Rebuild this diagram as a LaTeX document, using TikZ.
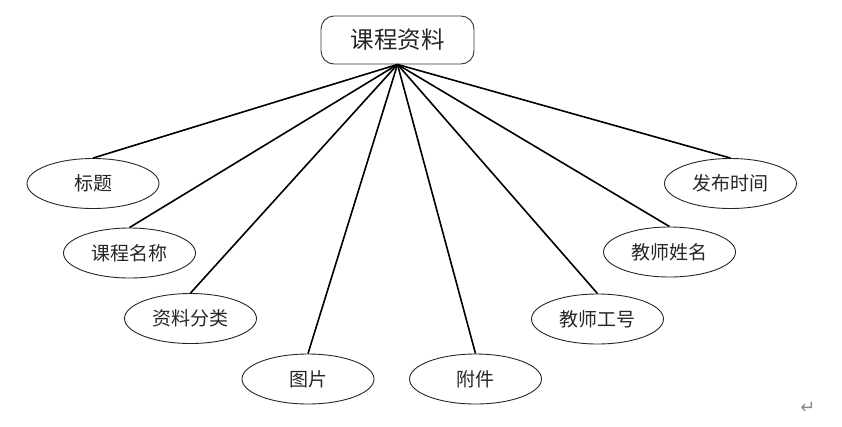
\documentclass[tikz,border=0pt]{standalone}
\usepackage{fontspec}
\newfontfamily\cjk{Noto Sans CJK SC}
\newfontfamily\symfont{DejaVu Sans}
\usetikzlibrary{shapes.geometric}
\tikzset{
  attr/.style={ellipse,draw=black!85,line width=0.9pt,minimum width=132pt,minimum height=50pt,inner sep=0pt,font=\cjk\fontsize{19}{21}\selectfont,text=black!85},
  entity/.style={rectangle,rounded corners=13pt,draw=black!80,line width=0.9pt,minimum width=153pt,minimum height=48pt,inner sep=0pt,font=\cjk\fontsize{23.5}{25}\selectfont,text=black!85},
  conn/.style={line width=1.6pt,black}
}
\begin{document}
\begin{tikzpicture}[x=1pt,y=-1pt]
\useasboundingbox (0,0) rectangle (842,426);
\node[entity] (top) at (397.5,40) {课程资料};
\node[attr] (a1) at (93,183.5) {标题};
\node[attr] (a2) at (129.5,253) {课程名称};
\node[attr] (a3) at (190.5,318.5) {资料分类};
\node[attr] (a4) at (308,379) {图片};
\node[attr] (a5) at (475.5,379) {附件};
\node[attr] (a6) at (597.5,319) {教师工号};
\node[attr] (a7) at (669.5,252) {教师姓名};
\node[attr] (a8) at (730.5,183.5) {发布时间};
\foreach \n in {a1,a2,a3,a4,a5,a6,a7,a8}
  \draw[conn] (top.south) -- (\n.north);
\node[font=\symfont\fontsize{18}{20}\selectfont,text=black!45,inner sep=0pt] (ret) at (808,408) {↵};
\end{tikzpicture}
\end{document}
